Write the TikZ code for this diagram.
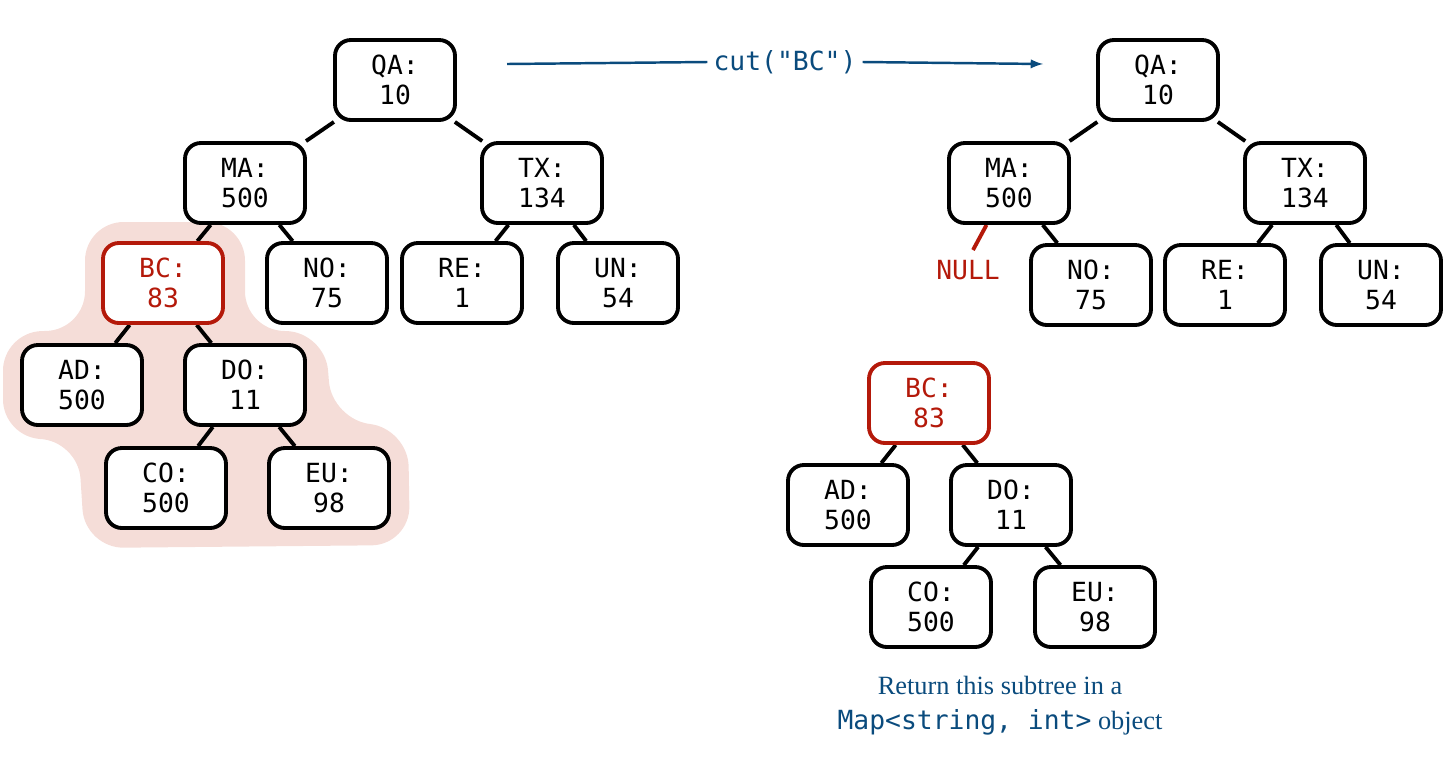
\documentclass[tikz,border=0pt]{standalone}
\usepackage{fontspec}
\setmainfont{Liberation Serif}
\newfontfamily\codefont{DejaVu Sans Mono}
\usetikzlibrary{backgrounds,scopes}
\definecolor{cutblue}{RGB}{10,75,125}
\definecolor{cutred}{RGB}{180,25,10}
\definecolor{blobpink}{RGB}{245,221,216}
\tikzset{
  key/.style={draw, line width=2.2pt, rounded corners=9pt, fill=white,
    minimum width=2.4cm, minimum height=1.6cm, align=center,
    font=\codefont\fontsize{15}{17}\selectfont},
  cutkey/.style={key, draw=cutred, text=cutred},
  link/.style={line width=2.2pt},
}
\begin{document}
\begin{tikzpicture}[x=0.02cm, y=-0.02cm]
  \useasboundingbox (0,0) rectangle (1452,765);

  % left tree
  { [every node/.style={key}]
    \node (QA) at (395,80) {QA:\\10};
    \node (MA) at (245,183) {MA:\\500};
    \node (TX) at (542,183) {TX:\\134};
    \node[cutkey] (BC) at (163,283) {BC:\\83};
    \node (NO) at (327,283) {NO:\\75};
    \node (RE) at (462,283) {RE:\\1};
    \node (UN) at (618,283) {UN:\\54};
    \node (AD) at (82,385) {AD:\\500};
    \node (DO) at (245,385) {DO:\\11};
    \node (CO) at (166,488) {CO:\\500};
    \node (EU) at (329,488) {EU:\\98};
  }

  % right tree
  { [every node/.style={key}]
    \node (QAr) at (1158,80) {QA:\\10};
    \node (MAr) at (1009,183) {MA:\\500};
    \node (TXr) at (1305,183) {TX:\\134};
    \node (NOr) at (1091,285) {NO:\\75};
    \node (REr) at (1225,285) {RE:\\1};
    \node (UNr) at (1381,285) {UN:\\54};
    \node[cutkey] (BCr) at (929,403) {BC:\\83};
    \node (ADr) at (848,505) {AD:\\500};
    \node (DOr) at (1011,505) {DO:\\11};
    \node (COr) at (931,607) {CO:\\500};
    \node (EUr) at (1095,607) {EU:\\98};
  }

  \node[text=cutred, font=\codefont\fontsize{15}{17}\selectfont] (null) at (968,270) {NULL};
  \coordinate (nullend) at (973,250);

  \begin{scope}[on background layer]
    % highlighted subtree
    \fill[blobpink, rounded corners=22pt] (85,222) -- (245,222) -- (245,330) -- (325,332)
      -- (332,420) -- (408,428) -- (410,545) -- (85,548) -- (78,440) -- (3,438)
      -- (3,332) -- (85,330) -- cycle;
    { [link]
      \draw (QA) -- (MA); \draw (QA) -- (TX);
      \draw (MA) -- (BC); \draw (MA) -- (NO);
      \draw (TX) -- (RE); \draw (TX) -- (UN);
      \draw (BC) -- (AD); \draw (BC) -- (DO);
      \draw (DO) -- (CO); \draw (DO) -- (EU);

      \draw (QAr) -- (MAr); \draw (QAr) -- (TXr);
      \draw (MAr) -- (NOr);
      \draw (TXr) -- (REr); \draw (TXr) -- (UNr);
      \draw (BCr) -- (ADr); \draw (BCr) -- (DOr);
      \draw (DOr) -- (COr); \draw (DOr) -- (EUr);
      \draw[cutred] (MAr) -- (nullend);
    }
  \end{scope}

  % operation arrow
  \node[text=cutblue, font=\codefont\fontsize{15}{17}\selectfont] (cut) at (785,62) {cut("BC")};
  \coordinate (from) at (507,64);
  \coordinate (to) at (1043,64);
  \draw[cutblue, line width=1.4pt] (from) -- (cut.west);
  \draw[cutblue, line width=1.4pt, -latex] (cut.east) -- (to);

  \node[text=cutblue, align=center, font=\fontsize{15}{20}\selectfont] (ret) at (1000,706)
    {Return this subtree in a\\{\codefont\fontsize{15}{17}\selectfont Map<string, int>} object};
\end{tikzpicture}
\end{document}
